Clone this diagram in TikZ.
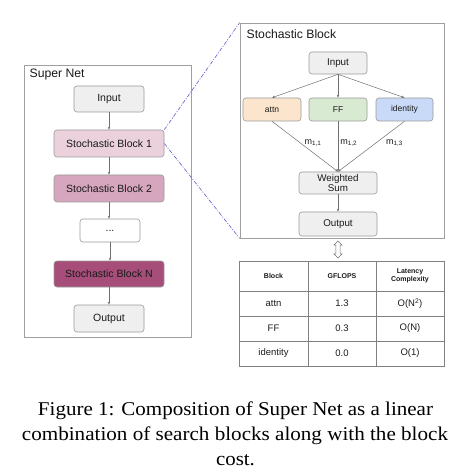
\documentclass[tikz,border=0pt]{standalone}
\usepackage{fontspec}
\setmainfont{Liberation Sans}
\newfontfamily\capfont{Liberation Serif}
\usetikzlibrary{arrows.meta,shapes.arrows}
\definecolor{boxgray}{HTML}{EFEFEF}
\definecolor{bordergray}{HTML}{9A9A9A}
\definecolor{framegray}{HTML}{A0A0A0}
\definecolor{linegray}{HTML}{707070}
\definecolor{tablegray}{HTML}{808080}
\definecolor{sbone}{HTML}{EAD1DC}
\definecolor{sbtwo}{HTML}{D5A6BD}
\definecolor{sbn}{HTML}{A64D79}
\definecolor{attnc}{HTML}{FCE5CD}
\definecolor{ffc}{HTML}{D9EAD3}
\definecolor{idc}{HTML}{C9DAF8}
\definecolor{zoomblue}{HTML}{5B5BD0}
\definecolor{txt}{HTML}{1A1A1A}
\begin{document}
\begin{tikzpicture}[x=1bp,y=-1bp,
  every node/.style={text=txt},
  box/.style={draw=bordergray, rounded corners=3bp, line width=0.6bp, inner sep=0pt, align=center},
  frame/.style={draw=framegray, line width=0.7bp, fill=white, inner sep=0pt},
  flow/.style={draw=linegray, line width=0.5bp, -{Stealth[length=3bp,width=2.4bp]}},
  zoomline/.style={draw=zoomblue, line width=0.6bp, dash pattern=on 4bp off 1.5bp on 1bp off 1.5bp},
  cell/.style={draw=tablegray, line width=0.6bp, inner sep=0pt, align=center, minimum width=68bp},
  fbig/.style={font=\fontsize{12.2bp}{14bp}\selectfont},
  fmid/.style={font=\fontsize{10.5bp}{12.5bp}\selectfont},
  frin/.style={font=\fontsize{9.8bp}{11.5bp}\selectfont},
  fsmall/.style={font=\fontsize{8.5bp}{10bp}\selectfont},
  fcell/.style={font=\fontsize{9.5bp}{11bp}\selectfont},
  fhead/.style={font=\fontsize{7bp}{9bp}\selectfont\bfseries},
  fm/.style={font=\fontsize{9bp}{10bp}\selectfont, inner sep=0pt},
  fcap/.style={font=\capfont\fontsize{19.5bp}{25bp}\selectfont, text=black, inner sep=0pt},
]
\useasboundingbox (0,0) rectangle (474,475);

% ---------- Super Net ----------
\node[frame, minimum width=167bp, minimum height=272bp] (snframe) at (107.5,201) {};
\node[fbig, anchor=base west, inner sep=0pt] (snlabel) at (29.5,77.5) {Super Net};

\node[box, fill=boxgray, fmid, minimum width=70bp, minimum height=26bp] (in) at (109,99) {Input};
\node[box, fill=sbone, fmid, minimum width=110bp, minimum height=27bp] (sb1) at (109,143.5) {Stochastic Block 1};
\node[box, fill=sbtwo, fmid, minimum width=110bp, minimum height=27bp] (sb2) at (109,188.5) {Stochastic Block 2};
\node[box, fill=white, fmid, minimum width=60bp, minimum height=23bp] (dots) at (110,230.5) {\raisebox{-2bp}{...}};
\node[box, fill=sbn, fmid, minimum width=110bp, minimum height=26bp] (sbN) at (109,274) {Stochastic Block N};
\node[box, fill=boxgray, fmid, minimum width=70bp, minimum height=27bp] (out) at (109,318.5) {Output};

\draw[flow] (in) -- (sb1);
\draw[flow] (sb1) -- (sb2);
\draw[flow] (sb2.south) -- (sb2.south |- dots.north);
\draw[flow] (dots.south) -- (dots.south |- sbN.north);
\draw[flow] (sbN) -- (out);

% ---------- Stochastic Block ----------
\node[frame, minimum width=204bp, minimum height=215bp] (sbframe) at (342,130.5) {};
\node[fbig, anchor=base west, inner sep=0pt] (sblabel) at (246.5,38.5) {Stochastic Block};

\node[box, fill=boxgray, frin, minimum width=58bp, minimum height=22bp] (rin) at (338,63) {Input};
\node[box, fill=attnc, fsmall, minimum width=58bp, minimum height=23bp] (attn) at (272,109.5) {attn};
\node[box, fill=ffc, fsmall, minimum width=58bp, minimum height=23bp] (ff) at (338,109.5) {FF};
\node[box, fill=idc, fsmall, minimum width=57bp, minimum height=23bp] (ident) at (404.5,109.5) {identity};
\node[box, fill=boxgray, frin, minimum width=78bp, minimum height=22bp] (wsum) at (338,183) {Weighted\\[-1.5bp]Sum};
\node[box, fill=boxgray, frin, minimum width=78bp, minimum height=24bp] (rout) at (338,224) {Output};

\draw[flow] (rin.south) -- (attn.north);
\draw[flow] (rin.south) -- (ff.north);
\draw[flow] (rin.south) -- (ident.north);
\draw[flow] (attn.south) -- node[fm, pos=0.43, anchor=west, xshift=4bp] (m11) {m\textsubscript{1,1}} (wsum.north);
\draw[flow] (ff.south) -- node[fm, pos=0.43, anchor=west, xshift=2bp] (m12) {m\textsubscript{1,2}} (wsum.north);
\draw[flow] (ident.south) -- node[fm, pos=0.43, anchor=west, xshift=10bp] (m13) {m\textsubscript{1,3}} (wsum.north);
\draw[flow] (wsum) -- (rout);

% zoom lines
\draw[zoomline] (sb1.north east) -- (sbframe.north west);
\draw[zoomline] (sb1.east) -- (sbframe.south west);

% double arrow
\node[double arrow, draw=linegray, fill=white, line width=0.5bp, rotate=90,
      minimum height=17bp, inner sep=1.8bp, double arrow head extend=2bp] (dbl) at (338,249.5) {};

% ---------- Table ----------
\node[cell, fhead, minimum width=69bp, minimum height=30bp] (hb) at (273.5,276) {Block};
\node[cell, fhead, minimum height=30bp] (hg) at (342,276) {GFLOPS};
\node[cell, fhead, minimum height=30bp] (hl) at (410,276) {Latency\\[-1.5bp]Complexity};
\node[cell, fcell, minimum width=69bp, minimum height=25bp] (r1a) at (273.5,303.5) {attn};
\node[cell, fcell, minimum height=25bp] (r1b) at (342,303.5) {1.3};
\node[cell, fcell, minimum height=25bp] (r1c) at (410,303.5) {O(N\textsuperscript{2})};
\node[cell, fcell, minimum width=69bp, minimum height=25bp] (r2a) at (273.5,328.5) {FF};
\node[cell, fcell, minimum height=25bp] (r2b) at (342,328.5) {0.3};
\node[cell, fcell, minimum height=25bp] (r2c) at (410,328.5) {O(N)};
\node[cell, fcell, minimum width=69bp, minimum height=25bp] (r3a) at (273.5,353.5) {identity};
\node[cell, fcell, minimum height=25bp] (r3b) at (342,353.5) {0.0};
\node[cell, fcell, minimum height=25bp] (r3c) at (410,353.5) {O(1)};

% ---------- Caption ----------
\node[fcap, anchor=base] (cap1) at (235.5,415.5) {\resizebox{395bp}{\height}{Figure 1: Composition of Super Net as a linear}};
\node[fcap, anchor=base] (cap2) at (235,440.5) {\resizebox{426bp}{\height}{combination of search blocks along with the block}};
\node[fcap, anchor=base] (cap3) at (235.5,465) {\scalebox{1.07}[1]{cost.}};
\end{tikzpicture}
\end{document}
